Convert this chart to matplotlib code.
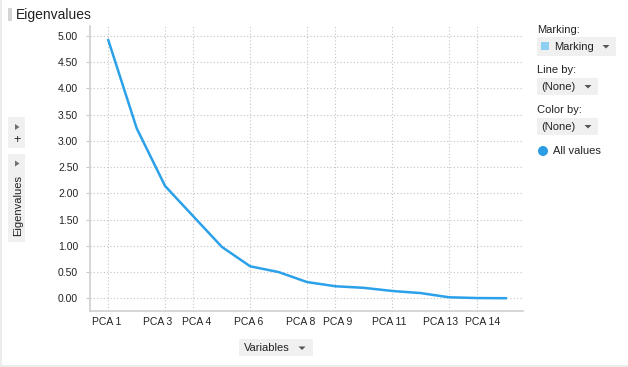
import matplotlib
matplotlib.use("Agg")
import matplotlib.pyplot as plt
from matplotlib.patches import Rectangle, Circle, Polygon
from matplotlib.transforms import ScaledTranslation

plt.rcParams['font.family'] = ['Liberation Sans', 'DejaVu Sans']

categories = ["PCA 1", "PCA 2", "PCA 3", "PCA 4", "PCA 5", "PCA 6", "PCA 7", "PCA 8",
              "PCA 9", "PCA 10", "PCA 11", "PCA 12", "PCA 13", "PCA 14", "PCA 15"]
eigenvalues = [4.92, 3.24, 2.14, 1.56, 0.98, 0.61, 0.50, 0.31,
               0.23, 0.20, 0.14, 0.10, 0.02, 0.005, 0.002]
shown_labels = ["PCA 1", "PCA 3", "PCA 4", "PCA 6", "PCA 8", "PCA 9", "PCA 11", "PCA 13", "PCA 14"]
y_ticks = [0.0, 0.5, 1.0, 1.5, 2.0, 2.5, 3.0, 3.5, 4.0, 4.5, 5.0]

# label nudges (pixels) mimicking the original's overlap avoidance
label_shift_px = [-2, -7, 3, -1.5, -6, 2.5, -2.5, -8.5, 5.5]

W, H = 628, 367
fig = plt.figure(figsize=(W / 100, H / 100), dpi=100)
fig.patch.set_facecolor("white")

ax_l, ax_r, ax_t, ax_b = 90, 523, 26, 310.7
ax = fig.add_axes([ax_l / W, 1 - ax_b / H, (ax_r - ax_l) / W, (ax_b - ax_t) / H])

xs = list(range(len(categories)))
ax.plot(xs, eigenvalues, color="#2AA1E9", linewidth=1.8, solid_joinstyle="round", zorder=3)

ax.set_xlim(-0.645, 14.61)
ax.set_ylim(-0.236, 5.19)

tick_pos = [categories.index(c) for c in shown_labels]
ax.set_xticks(tick_pos)
ax.set_xticklabels([])
ax.tick_params(axis="x", length=0)
base = ax.get_xaxis_transform()
for pos, lab, dx in zip(tick_pos, shown_labels, label_shift_px):
    tr = base + ScaledTranslation(dx / 100, -11 / 100, fig.dpi_scale_trans)
    ax.text(pos, 0, lab, transform=tr, fontsize=7.5, color="#222222",
            ha="center", va="center", clip_on=False)

ax.set_yticks(y_ticks)
ax.set_yticklabels([f"{v:.2f}" for v in y_ticks], fontsize=7.5, color="#222222")
ax.tick_params(axis="y", length=3, color="#c8c8c8", pad=5.5)

ax.grid(True, color="#c4c4c4", linestyle=(0, (1, 2)), linewidth=0.8, zorder=0)
for s in ["top", "right"]:
    ax.spines[s].set_visible(False)
for s in ["left", "bottom"]:
    ax.spines[s].set_color("#d0d0d0")
    ax.spines[s].set_linewidth(1.2)

ov2 = fig.add_axes([0, 0, 1, 1], zorder=5)
ov2.set_xlim(0, W)
ov2.set_ylim(H, 0)
ov2.axis("off")
ov2.patch.set_alpha(0)

txt = "#222222"
ov2.add_patch(Rectangle((0, 0), 1.5, H, color="#ececec", lw=0))
ov2.add_patch(Rectangle((0, 364.5), W, 2.5, color="#ececec", lw=0))

ov2.add_patch(Rectangle((8, 8), 3.5, 13, color="#d4d4d4", lw=0))
ov2.text(16, 14.5, "Eigenvalues", fontsize=10, color=txt, va="center", ha="left")

ov2.add_patch(Rectangle((8, 117), 17, 31, color="#f0f0f0", lw=0))
ov2.add_patch(Polygon([(15, 124), (15, 130), (19.5, 127)], closed=True, color="#707070", lw=0))
ov2.text(17.5, 140, "+", fontsize=9, color=txt, ha="center", va="center")
ov2.add_patch(Rectangle((8, 154), 17, 87.5, color="#f0f0f0", lw=0))
ov2.add_patch(Polygon([(15, 160.5), (15, 166.5), (19.5, 163.5)], closed=True, color="#707070", lw=0))
ov2.text(18.5, 206, "Eigenvalues", fontsize=8, color=txt, ha="center", va="center", rotation=90)

ov2.add_patch(Rectangle((239, 339), 74, 17, color="#f0f0f0", lw=0))
ov2.text(244, 348, "Variables", fontsize=8, color=txt, ha="left", va="center")
ov2.add_patch(Polygon([(298.5, 346.5), (305.5, 346.5), (302, 350)], closed=True, color="#555555", lw=0))

def dropdown(x0, x1, y0, y1, arrow_x):
    ov2.add_patch(Rectangle((x0, y0), x1 - x0, y1 - y0, color="#f0f0f0", lw=0))
    ym = (y0 + y1) / 2
    ov2.add_patch(Polygon([(arrow_x - 3.5, ym - 1.5), (arrow_x + 3.5, ym - 1.5), (arrow_x, ym + 2)],
                          closed=True, color="#555555", lw=0))

ov2.text(537, 30, "Marking:", fontsize=8, color=txt, ha="left", va="center")
dropdown(537, 616, 37, 56, 606)
ov2.add_patch(Rectangle((541, 42), 8, 8, color="#8ed0f0", lw=0))
ov2.text(554, 47, "Marking", fontsize=8, color=txt, ha="left", va="center")

ov2.text(537, 70, "Line by:", fontsize=8, color=txt, ha="left", va="center")
dropdown(537, 598, 78, 95, 588)
ov2.text(541, 87, "(None)", fontsize=8, color=txt, ha="left", va="center")

ov2.text(537, 110, "Color by:", fontsize=8, color=txt, ha="left", va="center")
dropdown(537, 598, 118, 135, 588)
ov2.text(541, 127, "(None)", fontsize=8, color=txt, ha="left", va="center")

ov2.add_patch(Circle((543, 151), 5, color="#2A9DE5", lw=0))
ov2.text(553, 151, "All values", fontsize=8, color=txt, ha="left", va="center")

fig.savefig("out.png", dpi=100)
